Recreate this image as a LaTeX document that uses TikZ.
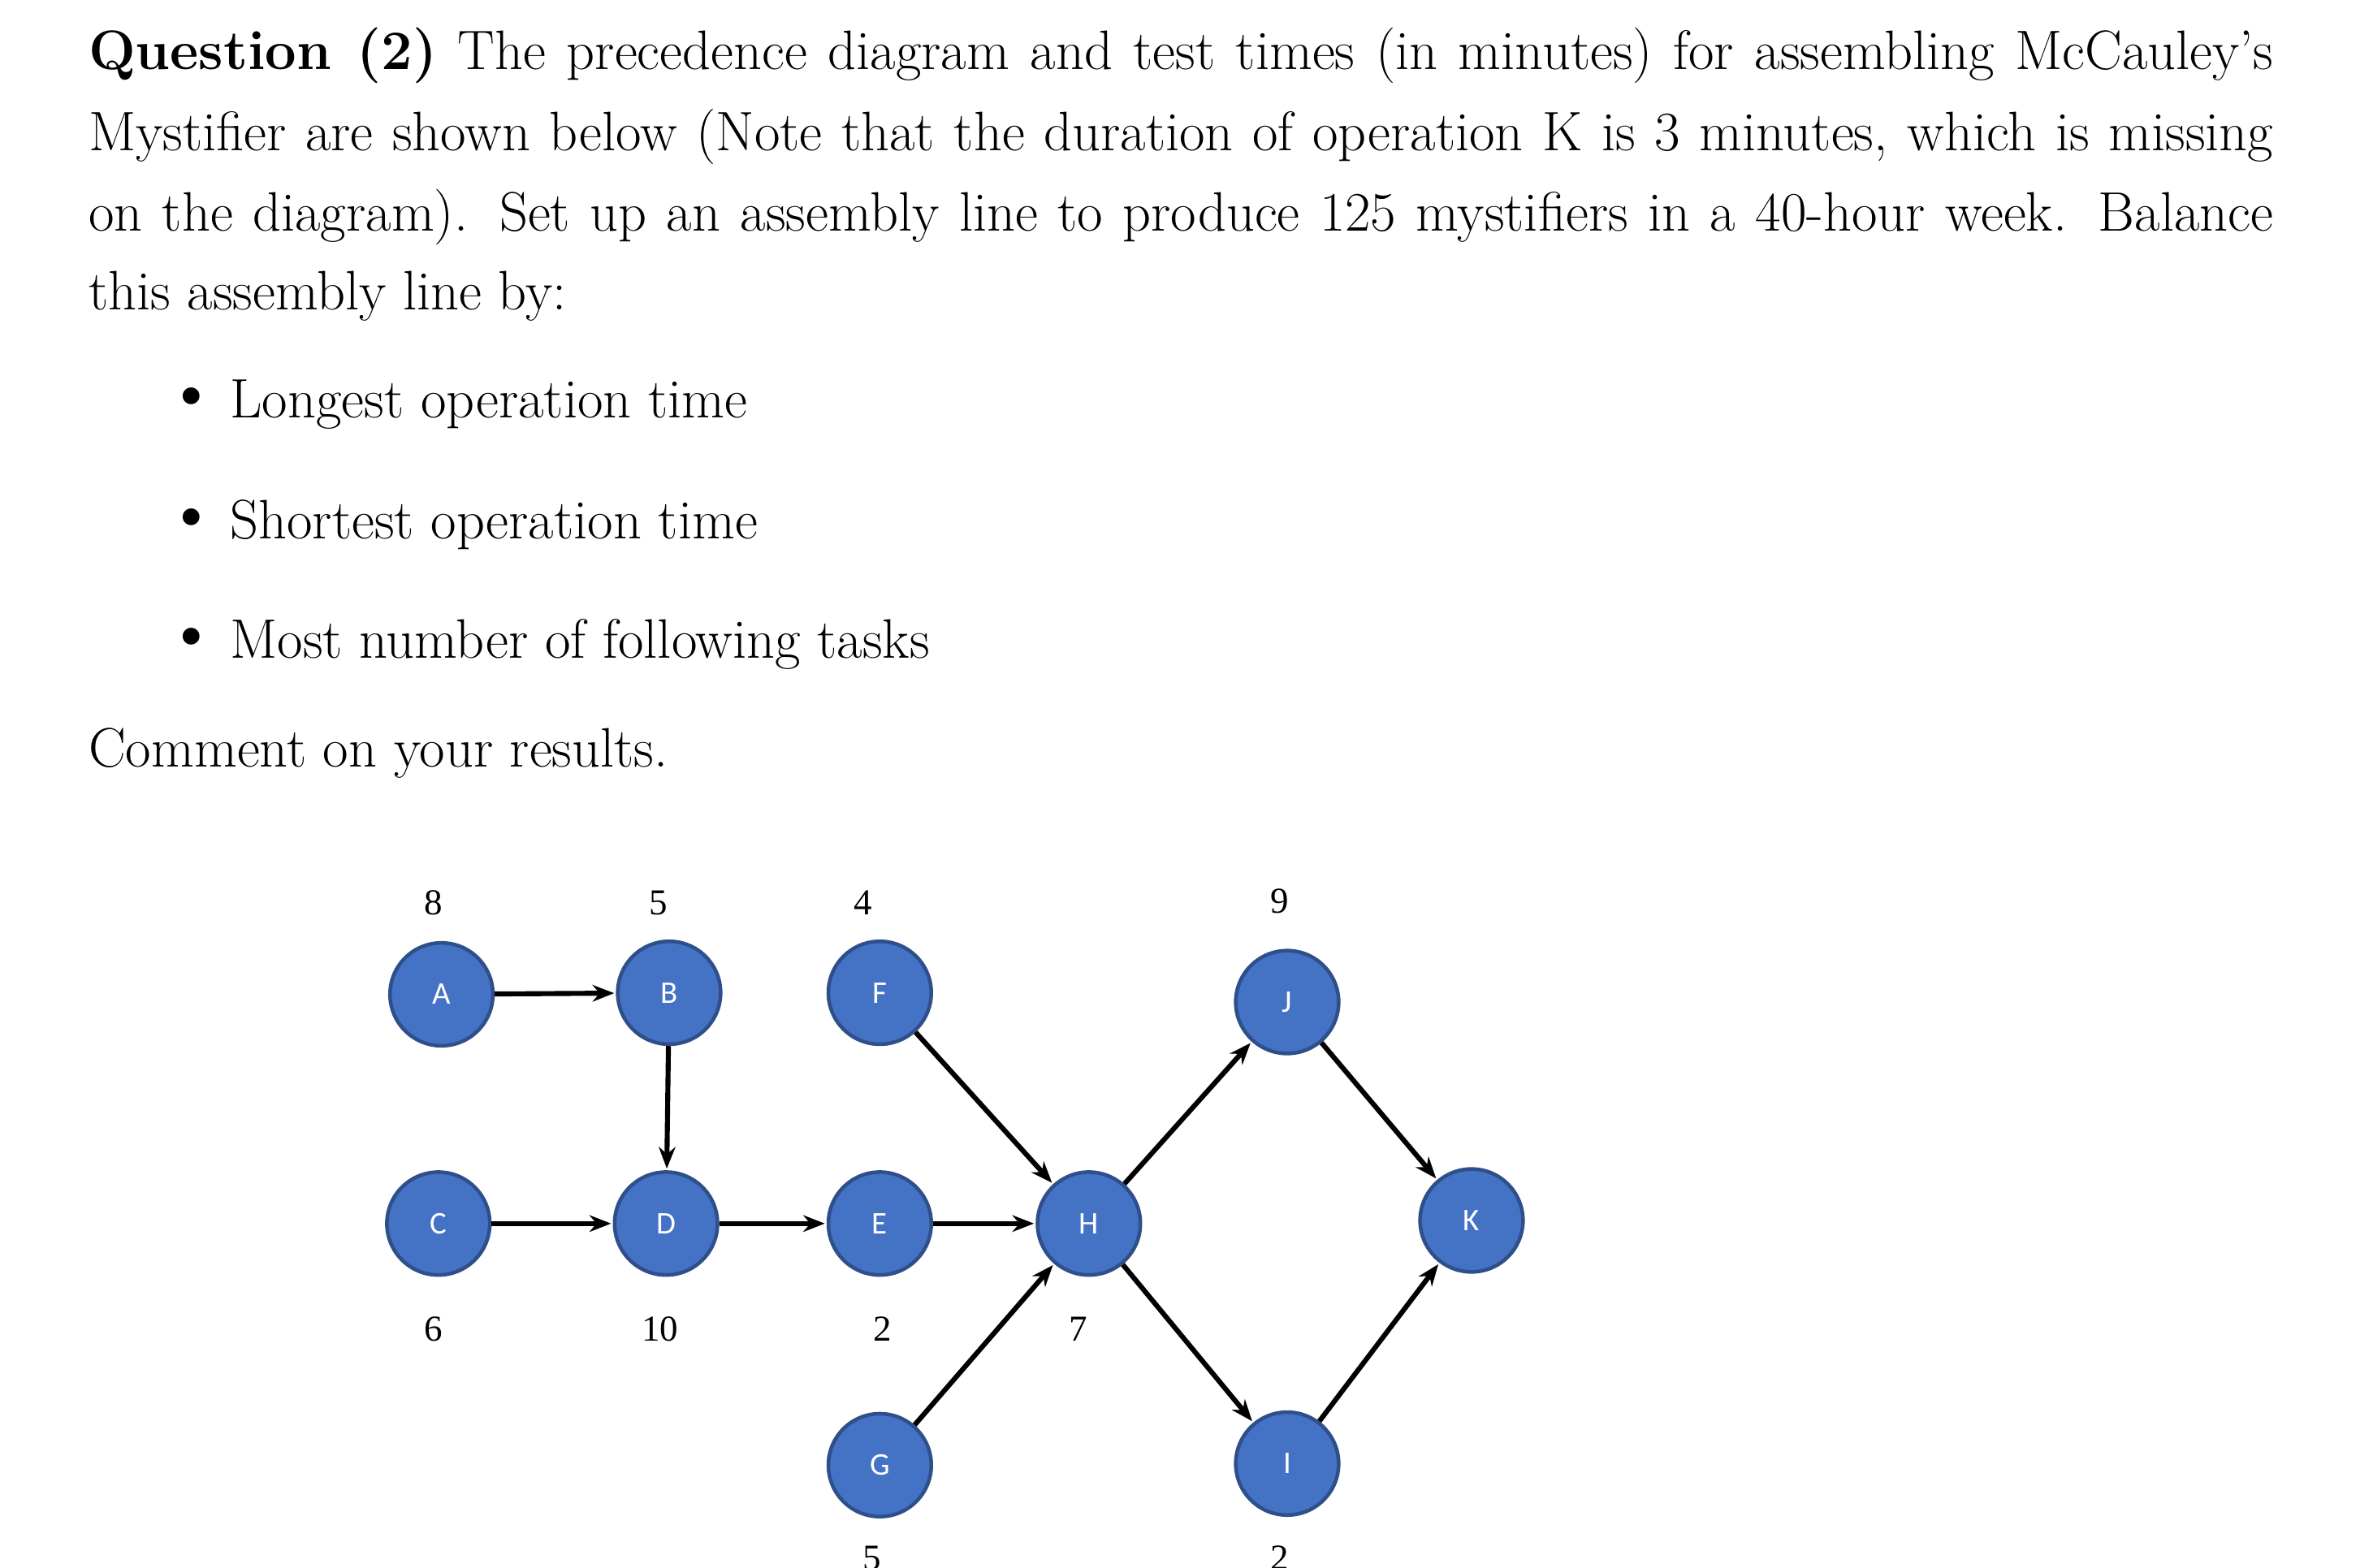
\documentclass[tikz,border=0pt]{standalone}
\usepackage{fontspec}
\newfontfamily\nodefont{Carlito}
\newfontfamily\numfont{Liberation Serif}
\usetikzlibrary{arrows.meta}
\definecolor{nblue}{HTML}{4472C4}
\definecolor{nedge}{HTML}{2F4F8A}
\newcommand{\bigbul}{\raisebox{1pt}{\scalebox{1.35}{\textbullet}}}
\begin{document}
\begin{tikzpicture}[x=0.933pt,y=-0.933pt,
  circ/.style={circle,fill=nblue,draw=nedge,line width=2.2pt,minimum size=62pt,inner sep=0pt,text=white,font=\nodefont\fontsize{19}{19}\selectfont},
  num/.style={font=\numfont\fontsize{22}{22}\selectfont},
  txt/.style={anchor=base west,inner sep=0pt,font=\fontsize{33.5}{40}\selectfont},
  arr/.style={-{Stealth[length=13pt,width=10pt]},line width=3pt,shorten >=1pt}]
\useasboundingbox[fill=white] (0,0) rectangle (1532,1012);
\node[txt] (l1) at (57,45) {\makebox[1316pt][s]{\textbf{Question (2)} The precedence diagram and test times (in minutes) for assembling McCauley’s}};
\node[txt] (l2) at (57,97) {\makebox[1316pt][s]{Mystifier are shown below (Note that the duration of operation K is 3 minutes, which is missing}};
\node[txt] (l3) at (57,149) {\makebox[1316pt][s]{on the diagram). Set up an assembly line to produce 125 mystifiers in a 40-hour week. Balance}};
\node[txt] (l4) at (57,200) {this assembly line by:};
\node[txt] (b1) at (106,270) {\bigbul\hspace{7pt}Longest operation time};
\node[txt] (b2) at (106,348) {\bigbul\hspace{7pt}Shortest operation time};
\node[txt] (b3) at (106,425) {\bigbul\hspace{7pt}Most number of following tasks};
\node[txt] (c1) at (57,495) {Comment on your results.};
\node[circ] (A) at (285,642) {A};
\node[circ] (B) at (432,641) {B};
\node[circ] (F) at (568,641) {F};
\node[circ] (J) at (831,647) {J};
\node[circ] (C) at (283,790) {C};
\node[circ] (D) at (430,790) {D};
\node[circ] (E) at (568,790) {E};
\node[circ] (H) at (703,790) {H};
\node[circ] (K) at (950,788) {K};
\node[circ] (G) at (568,946) {G};
\node[circ] (I) at (831,945) {I};
\node[num] (nA) at (280,583) {8};
\node[num] (nB) at (425,583) {5};
\node[num] (nF) at (557,583) {4};
\node[num] (nJ) at (826,582) {9};
\node[num] (nC) at (280,858) {6};
\node[num] (nD) at (426,858) {10};
\node[num] (nE) at (570,858) {2};
\node[num] (nH) at (696,858) {7};
\node[num] (nG) at (563,1006) {5};
\node[num] (nI) at (826,1006) {2};
\draw[arr] (A) -- (B);
\draw[arr] (B) -- (D);
\draw[arr] (C) -- (D);
\draw[arr] (D) -- (E);
\draw[arr] (E) -- (H);
\draw[arr] (F) -- (H);
\draw[arr] (G) -- (H);
\draw[arr] (H) -- (J);
\draw[arr] (H) -- (I);
\draw[arr] (J) -- (K);
\draw[arr] (I) -- (K);
\end{tikzpicture}
\end{document}
